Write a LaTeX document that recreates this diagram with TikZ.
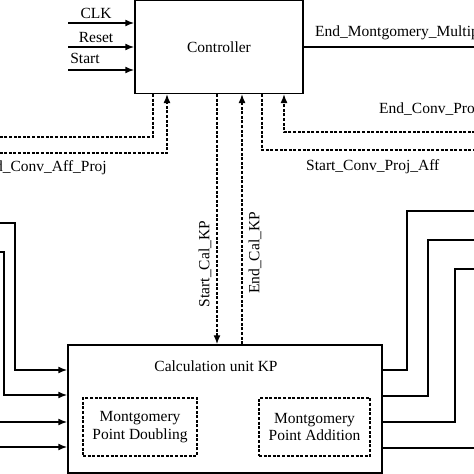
\documentclass[tikz,border=0pt]{standalone}
\usepackage{fontspec}
\setmainfont{Liberation Serif}
\usetikzlibrary{arrows.meta}
\begin{document}
\begin{tikzpicture}[x=1pt,y=-1pt,
  every node/.style={font=\fontsize{15.5}{17.7}\selectfont},
  box/.style={draw, line width=1.5pt, inner sep=0pt},
  dbox/.style={draw, line width=1.4pt, dash pattern=on 3pt off 1.6pt, inner sep=0pt, align=center},
  wire/.style={line width=1.5pt},
  dwire/.style={line width=1.4pt, dash pattern=on 3pt off 1.6pt},
  arr/.style={-{Latex[length=9pt,width=7pt]}},
  lbl/.style={inner sep=0pt}]
\useasboundingbox (0,0) rectangle (474,474);
\fill[white] (0,0) rectangle (474,474);
% main blocks
\node[box, minimum width=168pt, minimum height=93pt] (ctrl) at (219,46.8) {Controller};
\node[box, minimum width=314pt, minimum height=128pt] (calc) at (225,409) {};
\node[lbl] (calct) at (216,366) {Calculation unit KP};
\node[dbox, minimum width=114pt, minimum height=58pt] (dbl) at (140,427) {Montgomery\\Point Doubling};
\node[dbox, minimum width=111pt, minimum height=58pt] (add) at (314.5,427) {Montgomery\\Point Addition};
% controller inputs
\node[lbl] (clk) at (96,13) {CLK};
\node[lbl] (rst) at (96,37) {Reset};
\node[lbl] (stt) at (85,58) {Start};
\coordinate (clkin) at (68,23);
\coordinate (rstin) at (68,47);
\coordinate (sttin) at (68,70);
\draw[wire,arr] (clkin) -- (clkin -| ctrl.west);
\draw[wire,arr] (rstin) -- (rstin -| ctrl.west);
\draw[wire,arr] (sttin) -- (sttin -| ctrl.west);
% controller output
\node[lbl, anchor=west] (emml) at (315,33) {End\_Montgomery\_Multiplication};
\coordinate (emmR) at (480,46.8);
\draw[wire] (ctrl.east) -- (emmR);
% left dashed signals
\coordinate (la) at (153,137);
\coordinate (laL) at (-5,137);
\draw[dwire] (la |- ctrl.south) -- (la) -- (laL);
\coordinate (lb) at (167,153);
\coordinate (lbL) at (-5,153);
\draw[dwire,arr] (lbL) -- (lb) -- (lb |- ctrl.south);
\node[lbl, anchor=east] (ecap) at (107,168) {End\_Conv\_Aff\_Proj};
% right dashed signals
\coordinate (ra) at (262,150);
\coordinate (raR) at (480,150);
\draw[dwire] (ra |- ctrl.south) -- (ra) -- (raR);
\node[lbl, anchor=west] (scpa) at (306,167) {Start\_Conv\_Proj\_Aff};
\coordinate (rb) at (284,132);
\coordinate (rbR) at (480,132);
\draw[dwire,arr] (rbR) -- (rb) -- (rb |- ctrl.south);
\node[lbl, anchor=west] (ecpa) at (379,110) {End\_Conv\_Proj\_Aff};
% controller <-> calculation unit
\coordinate (sk) at (217,0);
\coordinate (ek) at (242,0);
\draw[dwire,arr] (sk |- ctrl.south) -- (sk |- calc.north);
\draw[dwire,arr] (ek |- calc.north) -- (ek |- ctrl.south);
\node[lbl, rotate=90] (sckl) at (205,264) {Start\_Cal\_KP};
\node[lbl, rotate=90] (eckl) at (255,253) {End\_Cal\_KP};
% left inputs to calculation unit
\coordinate (i1s) at (-5,223); \coordinate (i1a) at (15,223); \coordinate (i1b) at (15,370);
\draw[wire,arr] (i1s) -- (i1a) -- (i1b) -- (i1b -| calc.west);
\coordinate (i2s) at (-5,252); \coordinate (i2a) at (4,252); \coordinate (i2b) at (4,395);
\draw[wire,arr] (i2s) -- (i2a) -- (i2b) -- (i2b -| calc.west);
\coordinate (i3s) at (-5,422);
\draw[wire,arr] (i3s) -- (i3s -| calc.west);
\coordinate (i4s) at (-5,447);
\draw[wire,arr] (i4s) -- (i4s -| calc.west);
% right outputs of calculation unit
\coordinate (o1) at (407,370); \coordinate (o1t) at (407,211); \coordinate (o1e) at (480,211);
\draw[wire] (o1 -| calc.east) -- (o1) -- (o1t) -- (o1e);
\coordinate (o2) at (428,396); \coordinate (o2t) at (428,240); \coordinate (o2e) at (480,240);
\draw[wire] (o2 -| calc.east) -- (o2) -- (o2t) -- (o2e);
\coordinate (o3) at (455,422); \coordinate (o3t) at (455,269); \coordinate (o3e) at (480,269);
\draw[wire] (o3 -| calc.east) -- (o3) -- (o3t) -- (o3e);
\coordinate (o4) at (480,448);
\draw[wire] (o4 -| calc.east) -- (o4);
\end{tikzpicture}
\end{document}
